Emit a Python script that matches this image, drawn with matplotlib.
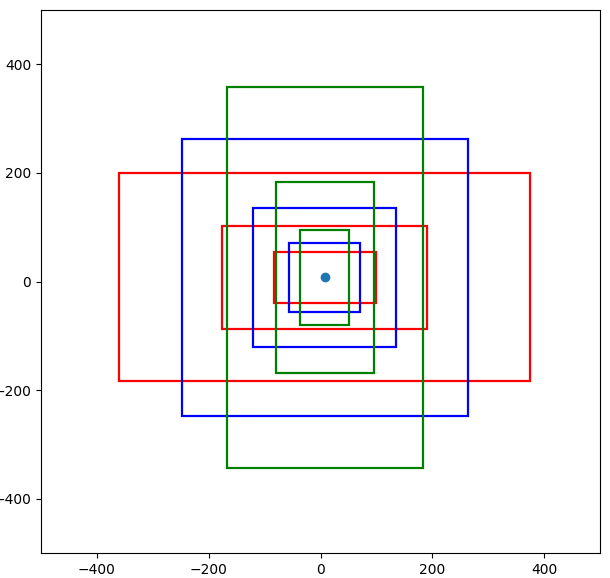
import matplotlib
matplotlib.use('Agg')
import matplotlib.pyplot as plt
import matplotlib.patches as patches

# anchors as x1, y1, x2, y2
red_boxes = [[-84, -40, 99, 55], [-176, -88, 191, 103], [-360, -184, 375, 199]]
blue_boxes = [[-56, -56, 71, 71], [-120, -120, 135, 135], [-248, -248, 263, 263]]
green_boxes = [[-36, -80, 51, 95], [-80, -168, 95, 183], [-168, -344, 183, 359]]
center = (7.5, 7.5)

fig = plt.figure(figsize=(6.1, 5.78), dpi=100)
ax = fig.add_axes([41/610, 25/578, 559/610, 543/578])

for boxes, color in [(red_boxes, 'red'), (blue_boxes, 'blue'), (green_boxes, 'green')]:
    for x1, y1, x2, y2 in boxes:
        ax.add_patch(patches.Rectangle((x1, y1), x2 - x1, y2 - y1,
                                       fill=False, edgecolor=color, linewidth=1.6))

ax.scatter([center[0]], [center[1]])
ax.set_xlim(-500, 500)
ax.set_ylim(-500, 500)
ax.set_xticks([-400, -200, 0, 200, 400])
ax.set_yticks([-400, -200, 0, 200, 400])

fig.savefig('out.png', dpi=100)
